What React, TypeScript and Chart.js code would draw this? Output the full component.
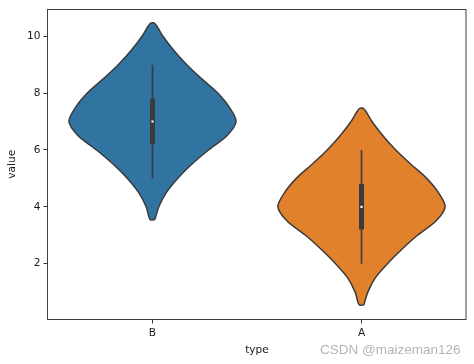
import React, { useEffect, useRef } from "react";
import Chart from "chart.js/auto";

// categories (x axis)
const categories = ["B", "A"];
// y ticks
const yTicks = [2, 4, 6, 8, 10];
const yMin = 0.055;
const yMax = 10.945;

// violin outline: sampled values and relative density (1 = widest)
const valuesB = [3.55, 4.0, 4.5, 5.0, 5.5, 6.0, 6.5, 7.0, 7.5, 8.0, 8.5, 9.0, 9.5, 10.0, 10.45];
const densityB = [0.028, 0.076, 0.165, 0.3, 0.47, 0.67, 0.89, 1.0, 0.92, 0.78, 0.59, 0.41, 0.256, 0.125, 0.028];
const valuesA = [0.55, 1.0, 1.5, 2.0, 2.5, 3.0, 3.5, 4.0, 4.5, 5.0, 5.5, 6.0, 6.5, 7.0, 7.45];
const densityA = [0.028, 0.076, 0.165, 0.31, 0.48, 0.67, 0.89, 1.0, 0.92, 0.78, 0.59, 0.41, 0.256, 0.125, 0.028];

// box statistics [min whisker, q1, median, q3, max whisker]
const statsB = [5.0, 6.2, 7.0, 7.8, 9.0];
const statsA = [2.0, 3.2, 4.0, 4.8, 6.0];

const fillColors = ["#3274a1", "#e1812c"];
const edgeColor = "#3b3b3b";
const violinHalfWidth = 0.4;

const violins = [
  { values: valuesB, density: densityB, stats: statsB },
  { values: valuesA, density: densityA, stats: statsA },
];

function outline(i: number, values: number[], density: number[]) {
  const pts: { x: number; y: number }[] = [];
  for (let k = 0; k < values.length; k++) pts.push({ x: i + density[k] * violinHalfWidth, y: values[k] });
  for (let k = values.length - 1; k >= 0; k--) pts.push({ x: i - density[k] * violinHalfWidth, y: values[k] });
  pts.push({ ...pts[0] });
  return pts;
}

const FONT = "'DejaVu Sans', sans-serif";
const FS = 10.6;

export default function App() {
  const ref = useRef<HTMLCanvasElement | null>(null);
  useEffect(() => {
    if (!ref.current) return;
    const datasets: any[] = [];
    violins.forEach((v, i) => {
      datasets.push({
        data: outline(i, v.values, v.density),
        showLine: true,
        fill: "shape",
        backgroundColor: fillColors[i],
        borderColor: edgeColor,
        borderWidth: 1.5,
        pointRadius: 0,
        tension: 0.3,
        order: 3,
      });
      datasets.push({
        data: [{ x: i, y: v.stats[0] }, { x: i, y: v.stats[4] }],
        showLine: true,
        borderColor: edgeColor,
        borderWidth: 1.6,
        pointRadius: 0,
        order: 2,
      });
      datasets.push({
        data: [{ x: i, y: v.stats[1] }, { x: i, y: v.stats[3] }],
        showLine: true,
        borderColor: edgeColor,
        borderWidth: 5,
        borderCapStyle: "butt",
        pointRadius: 0,
        order: 1,
      });
      datasets.push({
        data: [{ x: i, y: v.stats[2] }],
        pointRadius: 1.5,
        pointStyle: "rect",
        backgroundColor: "#ffffff",
        borderWidth: 0,
        order: 0,
      });
    });

    const frame = {
      id: "frame",
      afterDatasetsDraw(chart: any) {
        const { ctx, chartArea: a } = chart;
        ctx.save();
        ctx.strokeStyle = "#404040";
        ctx.lineWidth = 1;
        ctx.strokeRect(Math.round(a.left) - 0.5, Math.round(a.top) + 0.5, Math.round(a.right - a.left) + 0.5, Math.round(a.bottom - a.top));
        ctx.restore();
      },
    };

    const chart = new Chart(ref.current, {
      type: "scatter",
      data: { datasets },
      plugins: [frame],
      options: {
        responsive: false,
        animation: false,
        layout: { padding: { left: 0, top: 8, right: 8, bottom: 0 } },
        plugins: { legend: { display: false }, tooltip: { enabled: false } },
        scales: {
          x: {
            type: "linear",
            min: -0.5,
            max: categories.length - 0.5,
            afterBuildTicks: (s: any) => {
              s.ticks = categories.map((_, i) => ({ value: i }));
            },
            afterFit: (s: any) => {
              s.height = 45;
            },
            ticks: {
              callback: (v: any) => categories[v] ?? "",
              color: "#1a1a1a",
              font: { family: FONT, size: FS },
              padding: 3.6,
              maxRotation: 0,
            },
            grid: { drawOnChartArea: false, drawTicks: true, tickLength: 4.5, color: "#333" },
            border: { display: false },
            title: { display: true, text: "type", color: "#1a1a1a", font: { family: FONT, size: FS }, padding: { top: 0, bottom: 7.6 } },
          },
          y: {
            type: "linear",
            min: yMin,
            max: yMax,
            afterBuildTicks: (s: any) => {
              s.ticks = yTicks.map((v) => ({ value: v }));
            },
            afterFit: (s: any) => {
              s.width = 48;
            },
            ticks: {
              color: "#1a1a1a",
              font: { family: FONT, size: FS },
              padding: 3,
            },
            grid: { drawOnChartArea: false, drawTicks: true, tickLength: 4.5, color: "#333" },
            border: { display: false },
            title: { display: true, text: "value", color: "#1a1a1a", font: { family: FONT, size: FS }, padding: { top: 5.5, bottom: 0 } },
          },
        },
      },
    });
    return () => chart.destroy();
  }, []);

  return (
    <div style={{ position: "absolute", left: 0, top: 0, width: 474, height: 364, background: "#fff" }}>
      <canvas ref={ref} width={474} height={364} />
      <div
        style={{
          position: "absolute",
          left: 320,
          top: 341,
          fontFamily: "'Liberation Sans', Arial, sans-serif",
          fontSize: 13.5,
          color: "#b4b4b4",
          whiteSpace: "nowrap",
          lineHeight: "18px",
        }}
      >
        CSDN @maizeman126
      </div>
    </div>
  );
}
